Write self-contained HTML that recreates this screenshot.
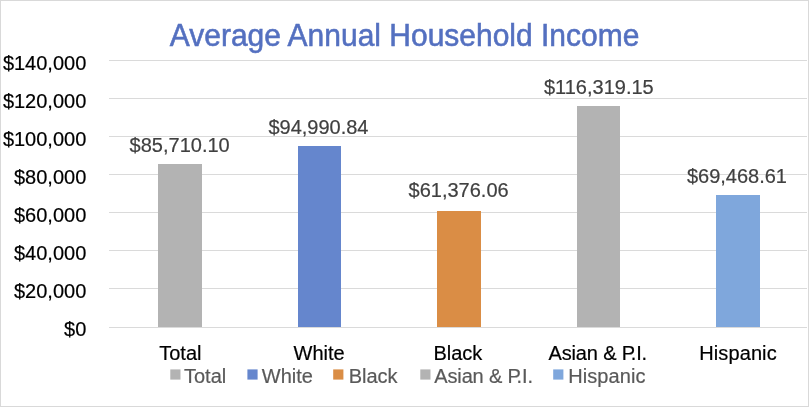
<!DOCTYPE html>
<html>
<head>
<meta charset="utf-8">
<title>Average Annual Household Income</title>
<style>
html,body{margin:0;padding:0;background:#fff;}
body{width:809px;height:407px;overflow:hidden;}
svg{display:block;will-change:transform;}
text{font-family:"Liberation Sans",Arial,Helvetica,sans-serif;font-size:20px;}
.title{font-size:30px;fill:#5470c0;stroke:#5470c0;stroke-width:0.55px;}
.yl{fill:#000;stroke:#000;stroke-width:0.2px;text-anchor:end;}
.xl{fill:#000;stroke:#000;stroke-width:0.2px;text-anchor:middle;}
.dl{fill:#404040;stroke:#404040;stroke-width:0.2px;text-anchor:middle;}
.lg{fill:#595959;stroke:#595959;stroke-width:0.2px;}
.grid{stroke:#dadada;stroke-width:1;}
</style>
</head>
<body>
<svg width="809" height="407" viewBox="0 0 809 407">
<rect x="0.5" y="0.5" width="808" height="406" fill="#fff" stroke="#d9d9d9" stroke-width="1"/>
<text class="title" x="169.8" y="0" transform="translate(0,45.6) scale(1,1.035)">Average Annual Household Income</text>
<line class="grid" x1="109" x2="807" y1="60.5" y2="60.5"/>
<line class="grid" x1="109" x2="807" y1="98.5" y2="98.5"/>
<line class="grid" x1="109" x2="807" y1="136.5" y2="136.5"/>
<line class="grid" x1="109" x2="807" y1="174.5" y2="174.5"/>
<line class="grid" x1="109" x2="807" y1="212.5" y2="212.5"/>
<line class="grid" x1="109" x2="807" y1="250.5" y2="250.5"/>
<line class="grid" x1="109" x2="807" y1="288.5" y2="288.5"/>
<line class="grid" x1="109" x2="807" y1="327.5" y2="327.5"/>
<text class="yl" x="86.3" y="70.0">$140,000</text>
<text class="yl" x="86.3" y="108.0">$120,000</text>
<text class="yl" x="86.3" y="146.0">$100,000</text>
<text class="yl" x="86.3" y="184.0">$80,000</text>
<text class="yl" x="86.3" y="222.0">$60,000</text>
<text class="yl" x="86.3" y="260.0">$40,000</text>
<text class="yl" x="86.3" y="298.0">$20,000</text>
<text class="yl" x="86.3" y="336.2">$0</text>
<rect x="158" y="164" width="44" height="163" fill="#b3b3b3"/>
<rect x="298" y="146" width="43" height="181" fill="#6586cd"/>
<rect x="437" y="211" width="44" height="116" fill="#da8d45"/>
<rect x="577" y="106" width="43" height="221" fill="#b3b3b3"/>
<rect x="716" y="195" width="44" height="132" fill="#7fa7dc"/>
<text class="dl" x="179.65" y="151.60">$85,710.10</text>
<text class="dl" x="318.45" y="133.80">$94,990.84</text>
<text class="dl" x="458.60" y="197.30">$61,376.06</text>
<text class="dl" x="598.85" y="93.70">$116,319.15</text>
<text class="dl" x="736.95" y="182.70">$69,468.61</text>
<text class="xl" x="180.35" y="359.6">Total</text>
<text class="xl" x="319.15" y="359.6">White</text>
<text class="xl" x="457.85" y="359.6">Black</text>
<text class="xl" x="597.75" y="359.6" letter-spacing="-0.15">Asian &amp; P<tspan dx="-1.6">.I.</tspan></text>
<text class="xl" x="738.00" y="359.6" letter-spacing="0.1">Hispanic</text>
<rect x="170.3" y="369.4" width="10.2" height="10.2" fill="#b3b3b3"/>
<text class="lg" x="184.0" y="382.5">Total</text>
<rect x="247.4" y="369.4" width="10.2" height="10.2" fill="#6586cd"/>
<text class="lg" x="261.8" y="382.5">White</text>
<rect x="333.2" y="369.4" width="10.2" height="10.2" fill="#da8d45"/>
<text class="lg" x="348.7" y="382.5">Black</text>
<rect x="420.3" y="369.4" width="10.2" height="10.2" fill="#b3b3b3"/>
<text class="lg" x="434.3" y="382.5" letter-spacing="-0.15">Asian &amp; P<tspan dx="-1.6">.I.</tspan></text>
<rect x="553.2" y="369.4" width="10.2" height="10.2" fill="#7fa7dc"/>
<text class="lg" x="568.2" y="382.5" letter-spacing="0.1">Hispanic</text>
</svg>
</body>
</html>
